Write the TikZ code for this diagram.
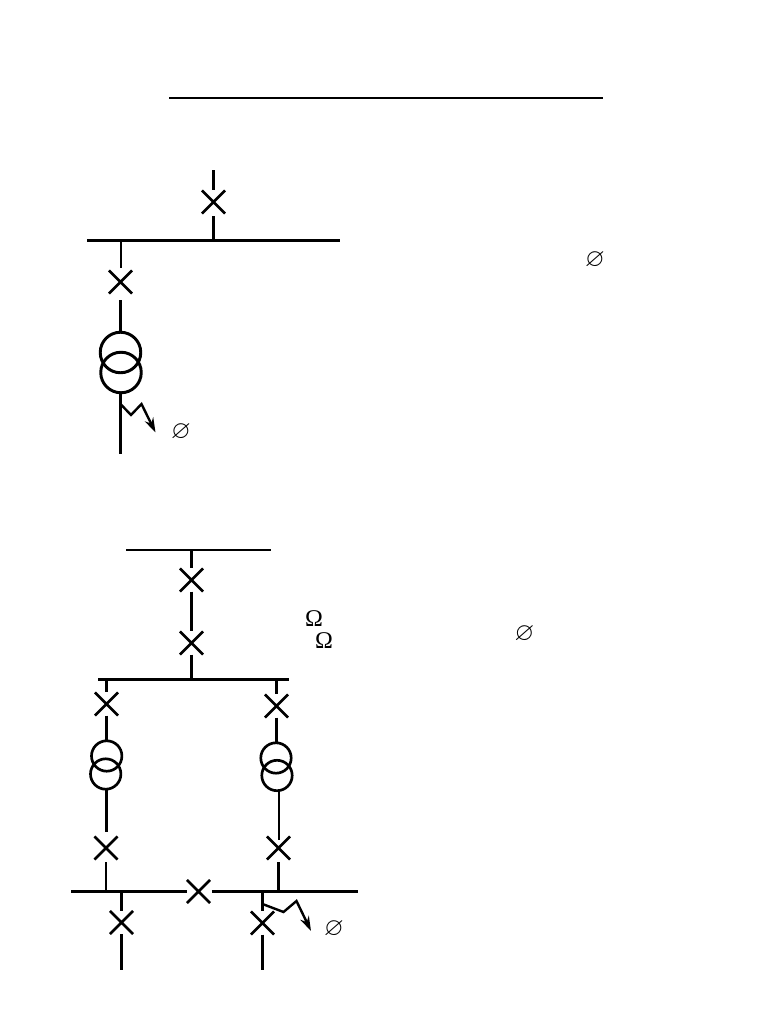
\documentclass[tikz,border=0pt]{standalone}
\usepackage{amssymb}
\usepackage{fontspec}
\setmainfont{Liberation Serif}
\usetikzlibrary{shapes.misc,arrows.meta}
\tikzset{
  breaker/.style={cross out,draw,line width=2pt,minimum size=16.5pt,inner sep=0pt,outer sep=0.4pt},
  bigxfmr/.style={circle,draw,line width=2.2pt,minimum size=30.4pt,inner sep=0pt,outer sep=0pt},
  smallxfmr/.style={circle,draw,line width=2pt,minimum size=22.8pt,inner sep=0pt,outer sep=0pt},
  heavy/.style={line width=2.25pt},
  busline/.style={line width=2.25pt},
  thin line/.style={line width=1.5pt},
  ctline/.style={line width=1.8pt,-{Stealth[length=11pt,width=7pt]}},
  sym/.style={inner sep=0pt,font=\fontsize{19pt}{19pt}\selectfont},
  ohm/.style={inner sep=0pt,font=\fontsize{18pt}{18pt}\selectfont}
}
\begin{document}
\begin{tikzpicture}[x=0.75pt,y=-0.75pt]
\useasboundingbox (0,0) rectangle (768,1024);
% title rule
\coordinate (tl) at (169,98); \coordinate (tr) at (603,98);
\draw[line width=1.3pt] (tl) -- (tr);
% upper scheme
\coordinate (ua) at (87,240.5); \coordinate (ub) at (340,240.5);
\coordinate (uin) at (213.5,170); \coordinate (uout) at (120.5,454);
\coordinate (uct) at (120.5,404);
\node[breaker] (c1) at (213.5,202) {};
\node[breaker] (c2) at (120.5,282) {};
\node[bigxfmr] (t1) at (120.5,352.5) {};
\node[bigxfmr] (t2) at (121,372.5) {};
\node[sym] (phi1) at (181,432) {$\varnothing$};
\node[sym] (phi2) at (595,260) {$\varnothing$};
\draw[busline] (ua) -- (ub);
\draw[heavy] (uin) -- (c1.north);
\draw[heavy,shorten >=1.5pt] (ub -| c1) -- (c1.south);
\draw[thin line,shorten >=2.2pt] (ua -| c2) -- (c2.north);
\draw[heavy,shorten >=5pt] (t1.north) -- (t1.north |- c2.south);
\draw[heavy] (uout |- t2.south) -- (uout);
\draw[ctline] (uct) -- ++(10.5,11) -- ++(10.5,-11) -- ++(14,28.5);
% lower scheme
\coordinate (la) at (126,550); \coordinate (lb) at (271,550);
\coordinate (ma) at (98,679.5); \coordinate (mb) at (289,679.5);
\coordinate (wa) at (71,891.5); \coordinate (wb) at (358,891.5);
\coordinate (o1) at (121.5,970); \coordinate (o2) at (262.5,970);
\coordinate (lct) at (262.5,904); \coordinate (lm) at (106.5,832);
\node[breaker] (b1) at (191.5,580) {};
\node[breaker] (b2) at (191.5,643) {};
\node[breaker] (b3) at (106.5,704) {};
\node[breaker] (b4) at (276.5,706) {};
\node[smallxfmr] (t3) at (106.7,756) {};
\node[smallxfmr] (t4) at (105.7,774) {};
\node[smallxfmr] (t5) at (276,758) {};
\node[smallxfmr] (t6) at (277,775.5) {};
\node[breaker] (b5) at (106,848) {};
\node[breaker] (b6) at (278.5,848) {};
\node[breaker] (b7) at (198.5,891.5) {};
\node[breaker] (b8) at (121.5,922.5) {};
\node[breaker] (b9) at (262.5,923) {};
\node[ohm] (om1) at (314,619) {Ω};
\node[ohm] (om2) at (324,641) {Ω};
\node[sym] (phi3) at (524.5,634) {$\varnothing$};
\node[sym] (phi4) at (334,929) {$\varnothing$};
\draw[line width=1.6pt] (la) -- (lb);
\draw[heavy] (la -| b1) -- (b1.north);
\draw[heavy] (b1.south) -- (b2.north);
\draw[heavy] (b2.south) -- (ma -| b2);
\draw[busline] (ma) -- (mb);
\draw[heavy] (ma -| b3) -- (b3.north);
\draw[heavy] (b3.south) -- (b3.south |- t3.north);
\draw[heavy] (lm |- t4.south) -- (lm);
\draw[thin line,shorten >=2.2pt] (wa -| b5) -- (b5.south);
\draw[heavy] (mb -| b4) -- (b4.north);
\draw[heavy] (b4.south) -- (b4.south |- t5.north);
\draw[thin line] (t6.south -| b6) -- ([yshift=-3pt]b6.north);
\draw[heavy,shorten >=1.6pt] (wa -| b6) -- (b6.south);
\draw[busline] (wa) -- (b7.west);
\draw[busline,shorten <=1.3pt] (b7.east) -- (wb);
\draw[heavy] (wa -| b8) -- (b8.north);
\draw[heavy] (b8.south) -- (o1);
\draw[heavy] (wa -| b9) -- (b9.north);
\draw[heavy] (b9.south) -- (o2);
\draw[ctline] (lct) -- ++(21,8) -- ++(13,-11) -- ++(14.5,30);
\end{tikzpicture}
\end{document}
